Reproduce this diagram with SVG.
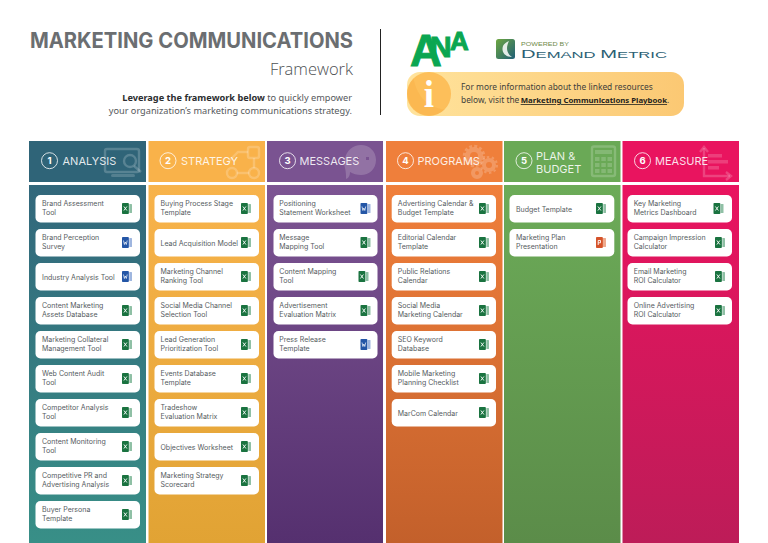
<svg xmlns="http://www.w3.org/2000/svg" width="768" height="543" viewBox="0 0 768 543">
<style>
text{font-family:Inter,"Liberation Sans",sans-serif}
.c{fill:#fff}
.t{font-size:7px;fill:#555b5e}
.h{font-size:11px;fill:#fff;fill-opacity:.88}
.n{font-size:9.5px;font-weight:700;fill:#fff;text-anchor:middle}
.r{fill:none;stroke:#fff;stroke-opacity:.8;stroke-width:1}
.g{fill:#fff;fill-opacity:.18;stroke:none}
.gl{fill:none;stroke:#fff;stroke-opacity:.2;stroke-width:2.4}
.a{font-family:"Liberation Sans",sans-serif;font-weight:700;fill:#0ba651;stroke:#0ba651;stroke-width:1}
</style>
<defs>
<linearGradient id="b1" x1="0" y1="0" x2="0" y2="1"><stop offset="0" stop-color="#32677b"/><stop offset="1" stop-color="#388f87"/></linearGradient>
<linearGradient id="b2" x1="0" y1="0" x2="0" y2="1"><stop offset="0" stop-color="#f8b34b"/><stop offset="1" stop-color="#e1a334"/></linearGradient>
<linearGradient id="b3" x1="0" y1="0" x2="0" y2="1"><stop offset="0" stop-color="#7d5593"/><stop offset="1" stop-color="#55306f"/></linearGradient>
<linearGradient id="b4" x1="0" y1="0" x2="0" y2="1"><stop offset="0" stop-color="#f07f3b"/><stop offset="1" stop-color="#c3602b"/></linearGradient>
<linearGradient id="b5" x1="0" y1="0" x2="0" y2="1"><stop offset="0" stop-color="#6cab58"/><stop offset="1" stop-color="#5b8c49"/></linearGradient>
<linearGradient id="b6" x1="0" y1="0" x2="0" y2="1"><stop offset="0" stop-color="#e9145f"/><stop offset="1" stop-color="#bd1c58"/></linearGradient>
<linearGradient id="pill" x1="0" y1="0" x2="1" y2="0"><stop offset="0" stop-color="#ffe39c"/><stop offset="1" stop-color="#fbc873"/></linearGradient>
<linearGradient id="dm" x1="0" y1="0" x2="1" y2="1"><stop offset="0" stop-color="#6ea73f"/><stop offset="1" stop-color="#1f5f78"/></linearGradient>
<g id="x"><rect x="2.500" y="1" width="7.500" height="9" rx=".5" fill="#8fc0a5"/><path d="M7 1V10" stroke="#fff" stroke-width=".7"/><rect x="0" y="0" width="6.800" height="11" rx=".8" fill="#1a7340"/><path d="M1.900 3.500 4.900 7.500M4.900 3.500 1.900 7.500" stroke="#fff" stroke-width=".9"/></g>
<g id="w"><rect x="2.500" y="1" width="7.500" height="9" rx=".5" fill="#9fb6df"/><path d="M7 1V10" stroke="#fff" stroke-width=".7"/><rect x="0" y="0" width="6.800" height="11" rx=".8" fill="#2456a6"/><path d="M1.500 3.500 2.400 7.500 3.300 5 4.300 7.500 5.200 3.500" fill="none" stroke="#fff" stroke-width=".7"/></g>
<g id="p"><rect x="2.500" y="1" width="7.500" height="9" rx=".5" fill="#eeaa8e"/><rect x="0" y="0" width="6.800" height="11" rx=".8" fill="#d5532a"/><path d="M2.200 8V3.500H4.500V5.800H2.200" fill="none" stroke="#fff" stroke-width=".9"/></g>
</defs>
<rect width="768" height="543" fill="#fff"/>

<g id="title">
<text x="30" y="48" textLength="323" lengthAdjust="spacingAndGlyphs" style="font-size:21.500px;font-weight:700;fill:#6b6e71">MARKETING COMMUNICATIONS</text>
<text x="353" y="75" text-anchor="end" style="font-family:'Open Sans',sans-serif;font-size:16.500px;font-weight:300;fill:#4d5053">Framework</text>
<text x="352" y="101" text-anchor="end" style="font-family:'Noto Sans',sans-serif;font-size:9.200px;fill:#55585b"><tspan font-weight="700" fill="#2b2d2f">Leverage the framework below</tspan> to quickly empower</text>
<text x="352" y="114" text-anchor="end" style="font-family:'Noto Sans',sans-serif;font-size:9.200px;fill:#55585b">your organization’s marketing communications strategy.</text>
</g>
<rect id="divider" x="380" y="29" width="1" height="86" fill="#222"/>

<g id="ana-logo">
<text class="a" x="410" y="65.500" style="font-size:44px">A<tspan x="430" y="56.500" font-size="30">N</tspan><tspan x="450" y="50" font-size="26">A</tspan></text>
</g>
<g id="demand-metric-logo">
<rect x="496" y="39" width="19" height="20" rx="2.500" fill="url(#dm)"/>
<path d="M509 41C506 47 506 53 512 57 505 57 501 52 503 46 504 44 506 42 509 41Z" fill="#fff" fill-opacity=".85"/>
<text x="521" y="45.500" textLength="48" lengthAdjust="spacingAndGlyphs" style="font-family:'Liberation Sans',sans-serif;font-size:6.200px;fill:#6f8a4a">POWERED BY</text>
<text x="521" y="58" textLength="146" lengthAdjust="spacingAndGlyphs" style="font-family:'Liberation Sans',sans-serif;font-size:9.500px;fill:#2c5f74"><tspan font-size="11.500">D</tspan>EMAND <tspan font-size="11.500">M</tspan>ETRIC</text>
</g>
<g id="info-callout">
<rect x="407" y="72" width="277" height="44" rx="13" fill="url(#pill)"/>
<circle cx="429" cy="94" r="22" fill="#fdbf5a"/>
<path d="M444.500 109.600A22 22 0 0 1 413.500 78.400C418 100 430 107 444.500 109.600Z" fill="#f9b148" fill-opacity=".5"/>
<text x="429" y="107" text-anchor="middle" style="font-family:'Liberation Serif',serif;font-size:37px;font-weight:700;fill:#fff">i</text>
<text x="461" y="90" style="font-family:'Noto Sans',sans-serif;font-size:8.400px;fill:#3f3f3c">For more information about the linked resources</text>
<text x="461" y="103" style="font-family:'Noto Sans',sans-serif;font-size:8.400px;fill:#3f3f3c">below, visit the <tspan x="520.700" font-size="7.800" font-weight="700" fill="#1e1e1c" text-decoration="underline">Marketing Communications Playbook</tspan>.</text>
</g>

<g id="col1">
<rect x="29" y="141" width="117" height="41" fill="#2f6478"/>
<rect x="29" y="185" width="117" height="358" fill="url(#b1)"/>
<g id="col1-icon"><rect class="gl" x="105" y="149" width="34" height="23" rx="2"/><rect class="g" x="111" y="174" width="24" height="3" rx="1.500"/><circle class="gl" cx="130" cy="161" r="6"/><path class="gl" d="M134 166 141 172"/></g>
<circle class="r" cx="49.500" cy="160.700" r="8"/><text class="n" x="49.500" y="164">1</text>
<text class="h" x="62.500" y="165">ANALYSIS</text>
</g>
<g id="col2">
<rect x="148.500" y="141" width="116.500" height="41" fill="#f9b24a"/>
<rect x="148.500" y="185" width="116.500" height="358" fill="url(#b2)"/>
<g id="col2-icon"><rect class="gl" x="248" y="147" width="11" height="11" rx="2"/><circle class="gl" cx="232" cy="173" r="5"/><circle class="gl" cx="254" cy="173" r="5"/><path class="gl" d="M237 173H249M254 158V168M248 152H238L228 162"/></g>
<circle class="r" cx="168" cy="160.700" r="8"/><text class="n" x="168" y="164">2</text>
<text class="h" x="181" y="165">STRATEGY</text>
</g>
<g id="col3">
<rect x="267" y="141" width="116" height="41" fill="#7a5391"/>
<rect x="267" y="185" width="116" height="358" fill="url(#b3)"/>
<path id="col3-icon" class="g" d="M361 145C369 145 376 151 376 160 376 169 369 175 361 175 357 175 353 174 350 172 350 175 349 178 346 179 346 176 346 172 345 168 344 165 344 162 345 159 346 151 353 145 361 145Z"/>
<rect x="356" y="157" width="3" height="3" fill="#7a5391"/><rect x="366" y="157" width="3" height="3" fill="#7a5391"/>
<circle class="r" cx="287.500" cy="160.700" r="8"/><text class="n" x="287.500" y="164">3</text>
<text class="h" x="299.500" y="165">MESSAGES</text>
</g>
<g id="col4">
<rect x="386" y="141" width="116.500" height="41" fill="#ef7f3b"/>
<rect x="386" y="185" width="116.500" height="358" fill="url(#b4)"/>
<g id="col4-icon" fill="none" stroke="#fff" stroke-opacity=".2"><circle cx="474" cy="156" r="6.500" stroke-width="5"/><circle cx="474" cy="156" r="10" stroke-width="2.500" stroke-dasharray="3 2.230"/><circle cx="489" cy="165" r="5" stroke-width="4"/><circle cx="489" cy="165" r="8" stroke-width="2" stroke-dasharray="2.500 2.530"/><circle cx="477" cy="173" r="4" stroke-width="4"/></g>
<circle class="r" cx="405.500" cy="160.700" r="8"/><text class="n" x="405.500" y="164">4</text>
<text class="h" x="417.500" y="165">PROGRAMS</text>
</g>
<g id="col5">
<rect x="504" y="141" width="116.500" height="41" fill="#6aa956"/>
<rect x="504" y="185" width="116.500" height="358" fill="url(#b5)"/>
<g id="col5-icon"><rect class="gl" x="592" y="146.500" width="23" height="29.500" rx="2"/><rect class="g" x="595" y="150" width="17" height="4"/><rect class="g" x="595" y="157" width="4.500" height="4"/><rect class="g" x="601.300" y="157" width="4.500" height="4"/><rect class="g" x="607.500" y="157" width="4.500" height="4"/><rect class="g" x="595" y="163" width="4.500" height="4"/><rect class="g" x="601.300" y="163" width="4.500" height="4"/><rect class="g" x="607.500" y="163" width="4.500" height="4"/><rect class="g" x="595" y="169" width="4.500" height="4"/><rect class="g" x="601.300" y="169" width="4.500" height="4"/><rect class="g" x="607.500" y="169" width="4.500" height="4"/></g>
<circle class="r" cx="524" cy="160.700" r="8"/><text class="n" x="524" y="164">5</text>
<text class="h" x="536" y="159.500">PLAN &amp;</text>
<text class="h" x="536" y="172.500">BUDGET</text>
</g>
<g id="col6">
<rect x="622.500" y="141" width="116.500" height="41" fill="#e9145f"/>
<rect x="622.500" y="185" width="116.500" height="358" fill="url(#b6)"/>
<g id="col6-icon"><path class="gl" d="M704 148V176H730"/><path class="gl" d="M700 152 704 147 708 152M726 172 731 176 726 180"/><rect class="g" x="708" y="154" width="14" height="3.500"/><rect class="g" x="708" y="160" width="20" height="3.500"/><rect class="g" x="708" y="166" width="11" height="3.500"/></g>
<circle class="r" cx="642.500" cy="160.700" r="8"/><text class="n" x="642.500" y="164">6</text>
<text class="h" x="655" y="165">MEASURE</text>
</g>

<g id="n1-1"><rect class="c" x="35.500" y="195" width="104.500" height="27.500" rx="5"/><text class="t" x="42" y="206">Brand Assessment</text><text class="t" x="42" y="215">Tool</text><use href="#x" x="122" y="203"/></g>
<g id="n1-2"><rect class="c" x="35.500" y="229" width="104.500" height="27.500" rx="5"/><text class="t" x="42" y="240">Brand Perception</text><text class="t" x="42" y="249">Survey</text><use href="#w" x="122" y="237"/></g>
<g id="n1-3"><rect class="c" x="35.500" y="263" width="104.500" height="27.500" rx="5"/><text class="t" x="42" y="279.500">Industry Analysis Tool</text><use href="#w" x="122" y="271"/></g>
<g id="n1-4"><rect class="c" x="35.500" y="297" width="104.500" height="27.500" rx="5"/><text class="t" x="42" y="308">Content Marketing</text><text class="t" x="42" y="317">Assets Database</text><use href="#x" x="122" y="305"/></g>
<g id="n1-5"><rect class="c" x="35.500" y="331" width="104.500" height="27.500" rx="5"/><text class="t" x="42" y="342">Marketing Collateral</text><text class="t" x="42" y="351">Management Tool</text><use href="#x" x="122" y="339"/></g>
<g id="n1-6"><rect class="c" x="35.500" y="365" width="104.500" height="27.500" rx="5"/><text class="t" x="42" y="376">Web Content Audit</text><text class="t" x="42" y="385">Tool</text><use href="#x" x="122" y="373"/></g>
<g id="n1-7"><rect class="c" x="35.500" y="399" width="104.500" height="27.500" rx="5"/><text class="t" x="42" y="410">Competitor Analysis</text><text class="t" x="42" y="419">Tool</text><use href="#x" x="122" y="407"/></g>
<g id="n1-8"><rect class="c" x="35.500" y="433" width="104.500" height="27.500" rx="5"/><text class="t" x="42" y="444">Content Monitoring</text><text class="t" x="42" y="453">Tool</text><use href="#x" x="122" y="441"/></g>
<g id="n1-9"><rect class="c" x="35.500" y="467" width="104.500" height="27.500" rx="5"/><text class="t" x="42" y="478">Competitive PR and</text><text class="t" x="42" y="487">Advertising Analysis</text><use href="#x" x="122" y="475"/></g>
<g id="n1-10"><rect class="c" x="35.500" y="501" width="104.500" height="27.500" rx="5"/><text class="t" x="42" y="512">Buyer Persona</text><text class="t" x="42" y="521">Template</text><use href="#x" x="122" y="509"/></g>

<g id="n2-1"><rect class="c" x="154.500" y="195" width="104.500" height="27.500" rx="5"/><text class="t" x="160.500" y="206">Buying Process Stage</text><text class="t" x="160.500" y="215">Template</text><use href="#x" x="241" y="203"/></g>
<g id="n2-2"><rect class="c" x="154.500" y="229" width="104.500" height="27.500" rx="5"/><text class="t" x="160.500" y="245.500">Lead Acquisition Model</text><use href="#x" x="241" y="237"/></g>
<g id="n2-3"><rect class="c" x="154.500" y="263" width="104.500" height="27.500" rx="5"/><text class="t" x="160.500" y="274">Marketing Channel</text><text class="t" x="160.500" y="283">Ranking Tool</text><use href="#x" x="241" y="271"/></g>
<g id="n2-4"><rect class="c" x="154.500" y="297" width="104.500" height="27.500" rx="5"/><text class="t" x="160.500" y="308">Social Media Channel</text><text class="t" x="160.500" y="317">Selection Tool</text><use href="#x" x="241" y="305"/></g>
<g id="n2-5"><rect class="c" x="154.500" y="331" width="104.500" height="27.500" rx="5"/><text class="t" x="160.500" y="342">Lead Generation</text><text class="t" x="160.500" y="351">Prioritization Tool</text><use href="#x" x="241" y="339"/></g>
<g id="n2-6"><rect class="c" x="154.500" y="365" width="104.500" height="27.500" rx="5"/><text class="t" x="160.500" y="376">Events Database</text><text class="t" x="160.500" y="385">Template</text><use href="#x" x="241" y="373"/></g>
<g id="n2-7"><rect class="c" x="154.500" y="399" width="104.500" height="27.500" rx="5"/><text class="t" x="160.500" y="410">Tradeshow</text><text class="t" x="160.500" y="419">Evaluation Matrix</text><use href="#x" x="241" y="407"/></g>
<g id="n2-8"><rect class="c" x="154.500" y="433" width="104.500" height="27.500" rx="5"/><text class="t" x="160.500" y="449.500">Objectives Worksheet</text><use href="#x" x="241" y="441"/></g>
<g id="n2-9"><rect class="c" x="154.500" y="467" width="104.500" height="27.500" rx="5"/><text class="t" x="160.500" y="478">Marketing Strategy</text><text class="t" x="160.500" y="487">Scorecard</text><use href="#x" x="241" y="475"/></g>

<g id="n3-1"><rect class="c" x="273.500" y="195" width="104" height="27.500" rx="5"/><text class="t" x="279.300" y="206">Positioning</text><text class="t" x="279.300" y="215">Statement Worksheet</text><use href="#w" x="360.500" y="203"/></g>
<g id="n3-2"><rect class="c" x="273.500" y="229" width="104" height="27.500" rx="5"/><text class="t" x="279.300" y="240">Message</text><text class="t" x="279.300" y="249">Mapping Tool</text><use href="#x" x="360.500" y="237"/></g>
<g id="n3-3"><rect class="c" x="273.500" y="263" width="104" height="27.500" rx="5"/><text class="t" x="279.300" y="274">Content Mapping</text><text class="t" x="279.300" y="283">Tool</text><use href="#x" x="358.500" y="271"/></g>
<g id="n3-4"><rect class="c" x="273.500" y="297" width="104" height="27.500" rx="5"/><text class="t" x="279.300" y="308">Advertisement</text><text class="t" x="279.300" y="317">Evaluation Matrix</text><use href="#x" x="360.500" y="305"/></g>
<g id="n3-5"><rect class="c" x="273.500" y="331" width="104" height="27.500" rx="5"/><text class="t" x="279.300" y="342">Press Release</text><text class="t" x="279.300" y="351">Template</text><use href="#w" x="360.500" y="339"/></g>

<g id="n4-1"><rect class="c" x="391.700" y="195" width="104.300" height="27.500" rx="5"/><text class="t" x="397.800" y="206">Advertising Calendar &amp;</text><text class="t" x="397.800" y="215">Budget Template</text><use href="#x" x="479" y="203"/></g>
<g id="n4-2"><rect class="c" x="391.700" y="229" width="104.300" height="27.500" rx="5"/><text class="t" x="397.800" y="240">Editorial Calendar</text><text class="t" x="397.800" y="249">Template</text><use href="#x" x="479" y="237"/></g>
<g id="n4-3"><rect class="c" x="391.700" y="263" width="104.300" height="27.500" rx="5"/><text class="t" x="397.800" y="274">Public Relations</text><text class="t" x="397.800" y="283">Calendar</text><use href="#x" x="479" y="271"/></g>
<g id="n4-4"><rect class="c" x="391.700" y="297" width="104.300" height="27.500" rx="5"/><text class="t" x="397.800" y="308">Social Media</text><text class="t" x="397.800" y="317">Marketing Calendar</text><use href="#x" x="479" y="305"/></g>
<g id="n4-5"><rect class="c" x="391.700" y="331" width="104.300" height="27.500" rx="5"/><text class="t" x="397.800" y="342">SEO Keyword</text><text class="t" x="397.800" y="351">Database</text><use href="#x" x="479" y="339"/></g>
<g id="n4-6"><rect class="c" x="391.700" y="365" width="104.300" height="27.500" rx="5"/><text class="t" x="397.800" y="376">Mobile Marketing</text><text class="t" x="397.800" y="385">Planning Checklist</text><use href="#x" x="479" y="373"/></g>
<g id="n4-7"><rect class="c" x="391.700" y="399" width="104.300" height="27.500" rx="5"/><text class="t" x="397.800" y="415.500">MarCom Calendar</text><use href="#x" x="479" y="407"/></g>

<g id="n5-1"><rect class="c" x="509.500" y="195" width="104.800" height="27.500" rx="5"/><text class="t" x="516" y="211.500">Budget Template</text><use href="#x" x="596" y="203"/></g>
<g id="n5-2"><rect class="c" x="509.500" y="229" width="104.800" height="27.500" rx="5"/><text class="t" x="516" y="240">Marketing Plan</text><text class="t" x="516" y="249">Presentation</text><use href="#p" x="596" y="237"/></g>

<g id="n6-1"><rect class="c" x="627.500" y="195" width="104.500" height="27.500" rx="5"/><text class="t" x="633.700" y="206">Key Marketing</text><text class="t" x="633.700" y="215">Metrics Dashboard</text><use href="#x" x="713.500" y="203"/></g>
<g id="n6-2"><rect class="c" x="627.500" y="229" width="104.500" height="27.500" rx="5"/><text class="t" x="633.700" y="240">Campaign Impression</text><text class="t" x="633.700" y="249">Calculator</text><use href="#x" x="715" y="237"/></g>
<g id="n6-3"><rect class="c" x="627.500" y="263" width="104.500" height="27.500" rx="5"/><text class="t" x="633.700" y="274">Email Marketing</text><text class="t" x="633.700" y="283">ROI Calculator</text><use href="#x" x="715" y="271"/></g>
<g id="n6-4"><rect class="c" x="627.500" y="297" width="104.500" height="27.500" rx="5"/><text class="t" x="633.700" y="308">Online Advertising</text><text class="t" x="633.700" y="317">ROI Calculator</text><use href="#x" x="715" y="305"/></g>
<g id="connectors"/>
</svg>
